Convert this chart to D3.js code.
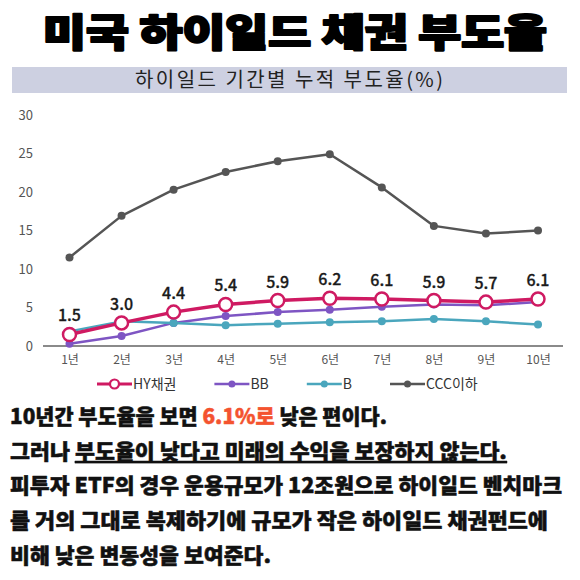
<!DOCTYPE html>
<html>
<head>
<meta charset="utf-8">
<script src="https://cdn.jsdelivr.net/npm/d3@7"></script>
<style>
  body { margin: 0; background: #fff; }
  svg { display: block; font-family: "Noto Sans CJK KR", "Noto Sans", sans-serif; }
</style>
</head>
<body>
<svg width="580" height="580"></svg>
<script>
// 하이일드 기간별 누적 부도율(%)
const years = ["1년", "2년", "3년", "4년", "5년", "6년", "7년", "8년", "9년", "10년"];
const hyValues = [1.5, 3.0, 4.4, 5.4, 5.9, 6.2, 6.1, 5.9, 5.7, 6.1];
const bbValues = [0.3, 1.3, 3.0, 3.9, 4.4, 4.7, 5.1, 5.4, 5.3, 5.7];
const bValues = [1.9, 3.2, 3.0, 2.7, 2.9, 3.1, 3.2, 3.5, 3.2, 2.8];
const cccValues = [11.5, 16.9, 20.3, 22.6, 24.0, 24.9, 20.6, 15.6, 14.6, 15.0];
const yTicks = [0, 5, 10, 15, 20, 25, 30];

const seriesNames = ["HY채권", "BB", "B", "CCC이하"];
const seriesColors = ["#cf1a62", "#7e55c3", "#4aa6bd", "#555555"];

const titleText = "미국 하이일드 채권 부도율";
const subtitleText = "하이일드 기간별 누적 부도율(%)";

const svg = d3.select("svg");

const attr = {
    left: 69.5,
    right: 538,
    top: 115,
    bottom: 346
};

// title (font drawn with a stroke to get the heavy look)
svg.append("text")
    .attr("x", 43)
    .attr("y", 46)
    .attr("textLength", 504)
    .attr("lengthAdjust", "spacingAndGlyphs")
    .style("font-size", "38px")
    .style("font-weight", 900)
    .style("fill", "#000")
    .style("stroke", "#000")
    .style("stroke-width", 2.2)
    .style("stroke-linejoin", "round")
    .text(titleText);

// subtitle band
svg.append("rect")
    .attr("x", 12)
    .attr("y", 67)
    .attr("width", 555)
    .attr("height", 26)
    .style("fill", "#cdd0e1");

svg.append("text")
    .attr("x", 135)
    .attr("y", 86.5)
    .attr("textLength", 308)
    .attr("lengthAdjust", "spacing")
    .style("font-size", "20px")
    .style("fill", "#222")
    .text(subtitleText);

const scX = d3.scalePoint()
    .domain(years)
    .range([attr.left, attr.right]);

const scY = d3.scaleLinear()
    .domain([0, 30])
    .range([attr.bottom, attr.top]);

// x axis
const gx = svg.append("g")
    .attr("transform", `translate(0,${attr.bottom})`)
    .call(d3.axisBottom(scX).tickSize(0).tickPadding(9));
gx.select(".domain")
    .attr("d", "M43,0H563")
    .attr("stroke", "#8a8a8a")
    .attr("stroke-width", 2);
gx.selectAll("text")
    .style("font-size", "12px")
    .style("fill", "#555")
    .style("font-family", "'Noto Sans CJK KR', sans-serif");

// y axis
const gy = svg.append("g")
    .attr("transform", "translate(33,0)")
    .call(d3.axisLeft(scY).tickValues(yTicks).tickSize(0).tickPadding(0));
gy.select(".domain").remove();
gy.selectAll("text")
    .style("font-size", "13px")
    .style("fill", "#555")
    .style("font-family", "'Noto Sans CJK KR', sans-serif");

function drawSeries(values, color, width, hollow) {
    const data = values.map((v, i) => ({ label: years[i], value: v }));
    const line = d3.line()
        .x(d => scX(d.label))
        .y(d => scY(d.value));
    svg.append("path")
        .datum(data)
        .attr("fill", "none")
        .attr("stroke", color)
        .attr("stroke-width", width)
        .attr("stroke-linejoin", "round")
        .attr("d", line);
    svg.append("g")
        .selectAll("circle")
        .data(data)
        .enter()
        .append("circle")
        .attr("cx", d => scX(d.label))
        .attr("cy", d => scY(d.value))
        .attr("r", hollow ? 6.5 : 4)
        .style("fill", hollow ? "#fff" : color)
        .style("stroke", hollow ? color : "none")
        .style("stroke-width", hollow ? 2.5 : 0);
    return data;
}

// draw back to front
drawSeries(cccValues, seriesColors[3], 2.5, false);
drawSeries(bbValues, seriesColors[1], 2.5, false);
drawSeries(bValues, seriesColors[2], 2.5, false);
const hyData = drawSeries(hyValues, seriesColors[0], 3.5, true);

// HY value labels
svg.append("g")
    .selectAll("text")
    .data(hyData)
    .enter()
    .append("text")
    .attr("x", d => scX(d.label))
    .attr("y", d => scY(d.value) - 13)
    .attr("text-anchor", "middle")
    .style("font-size", "16px")
    .style("font-weight", 500)
    .style("fill", "#1a1a1a")
    .style("stroke", "#1a1a1a")
    .style("stroke-width", 0.3)
    .text(d => d.value.toFixed(1));

// legend
const legend = svg.append("g").attr("transform", "translate(0,384)");
let lx = 97;
seriesNames.forEach((name, i) => {
    const g = legend.append("g").attr("transform", `translate(${lx},0)`);
    g.append("line")
        .attr("x1", 0).attr("x2", 35)
        .attr("stroke", seriesColors[i])
        .attr("stroke-width", i === 0 ? 3 : 2.5);
    g.append("circle")
        .attr("cx", 17.5)
        .attr("r", i === 0 ? 4.5 : 3.5)
        .style("fill", i === 0 ? "#fff" : seriesColors[i])
        .style("stroke", i === 0 ? seriesColors[i] : "none")
        .style("stroke-width", 2.2);
    const t = g.append("text")
        .attr("x", 36)
        .attr("y", 5)
        .style("font-size", "14px")
        .style("fill", "#333")
        .text(name);
    lx += 36 + t.node().getComputedTextLength() + 38;
});

// commentary
const notes = [
    { y: 424, width: 377 },
    { y: 459, width: 497 },
    { y: 493, width: 552 },
    { y: 528, width: 538 },
    { y: 563, width: 261 }
];

const noteG = svg.append("g")
    .style("font-size", "21px")
    .style("font-weight", 900)
    .style("fill", "#111")
    .style("stroke", "#111")
    .style("stroke-width", 0.5)
    .style("stroke-linejoin", "round");

const n1 = noteG.append("text").attr("x", 10).attr("y", notes[0].y)
    .attr("textLength", notes[0].width).attr("lengthAdjust", "spacingAndGlyphs");
n1.append("tspan").text("10년간 부도율을 보면 ");
n1.append("tspan").style("fill", "#f4532f").style("stroke", "#f4532f").text("6.1%로");
n1.append("tspan").text(" 낮은 편이다.");

const n2 = noteG.append("text").attr("x", 10).attr("y", notes[1].y)
    .attr("textLength", notes[1].width).attr("lengthAdjust", "spacingAndGlyphs");
n2.append("tspan").text("그러나 ");
n2.append("tspan").style("text-decoration", "underline").text("부도율이 낮다고 미래의 수익을 보장하지 않는다.");

const rest = [
    "피투자 ETF의 경우 운용규모가 12조원으로 하이일드 벤치마크",
    "를 거의 그대로 복제하기에 규모가 작은 하이일드 채권펀드에",
    "비해 낮은 변동성을 보여준다."
];
rest.forEach((s, i) => {
    noteG.append("text")
        .attr("x", 10)
        .attr("y", notes[i + 2].y)
        .attr("textLength", notes[i + 2].width)
        .attr("lengthAdjust", "spacingAndGlyphs")
        .text(s);
});
</script>
</body>
</html>
